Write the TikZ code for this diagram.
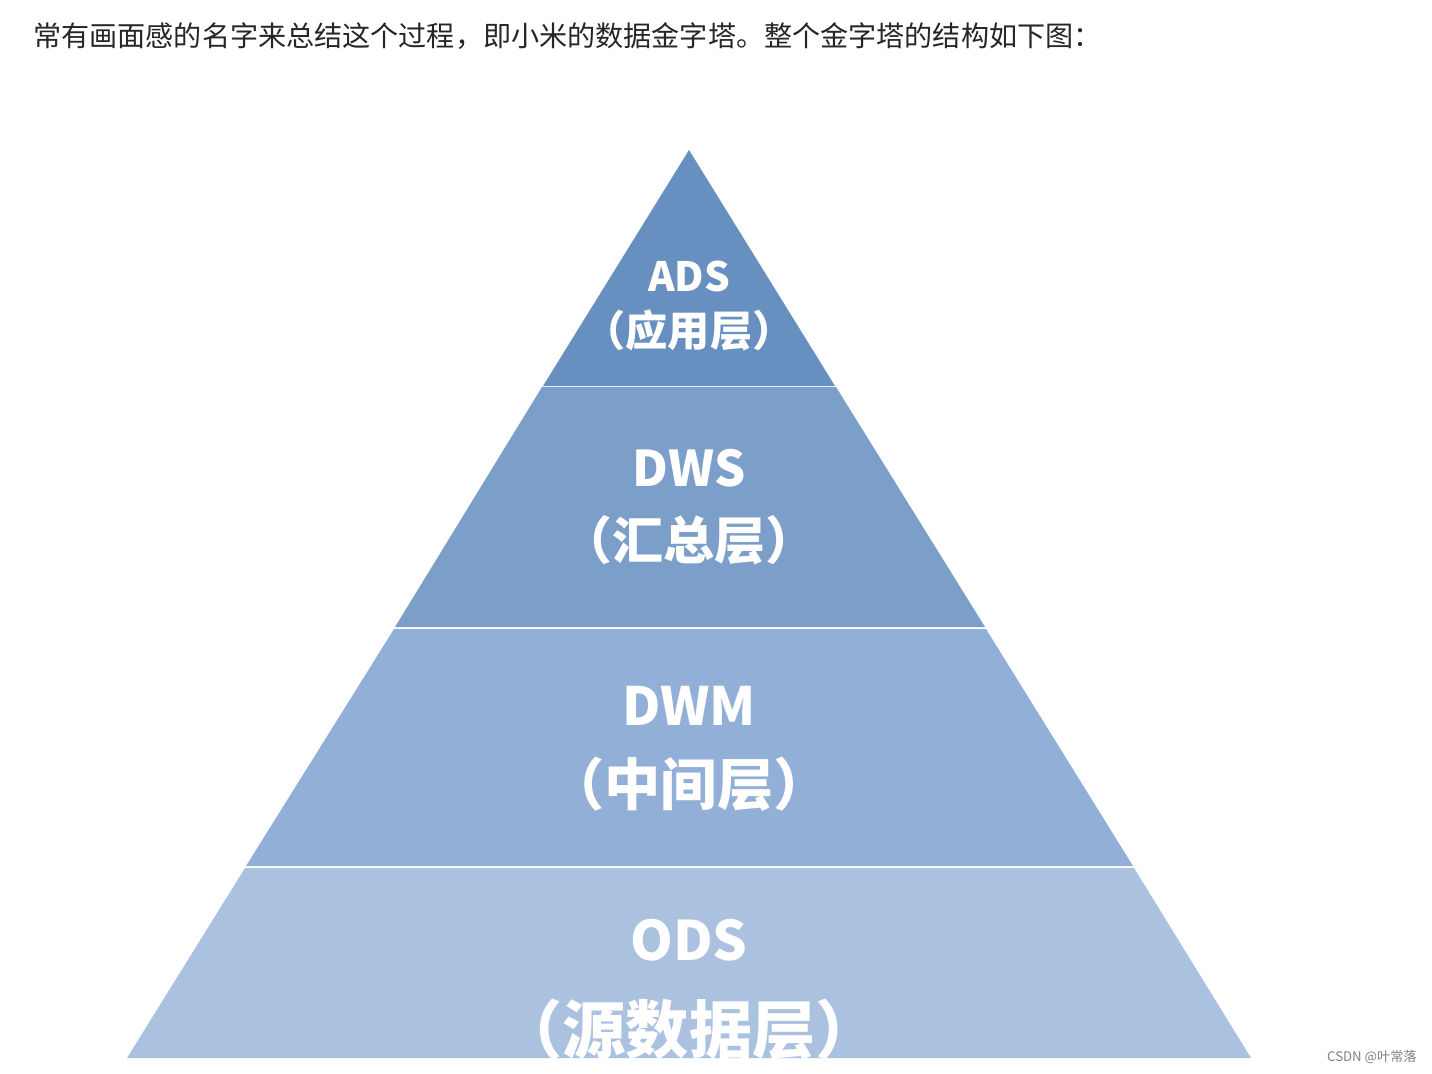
\documentclass[tikz,border=0pt]{standalone}
\usepackage{fontspec}
\setmainfont{Noto Sans CJK SC}
\newfontfamily\cjkb[BoldFont=*]{Noto Sans CJK SC Bold}
\definecolor{cA}{HTML}{678FBF}
\definecolor{cB}{HTML}{7C9FC9}
\definecolor{cC}{HTML}{92B0D7}
\definecolor{cD}{HTML}{ABC1E0}
\begin{document}
\begin{tikzpicture}[x=0.02cm,y=-0.02cm,
  lay/.style={draw=white,line width=2pt},
  lbl/.style={text=white,font=\bfseries,align=center,inner sep=0pt}]
\useasboundingbox (0,0) rectangle (1432,1074);
\fill[white] (0,0) rectangle (1432,1074);
\node[anchor=west,inner sep=0pt,font=\fontsize{16}{18}\selectfont,text=black!85] (cap) at (33,36) {常有画面感的名字来总结这个过程，即小米的数据金字塔。整个金字塔的结构如下图：};
\fill[cA] (689,150) -- (835,386) -- (543,386) -- cycle;
\fill[cB] (542,387) -- (836,387) -- (985,627) -- (395,627) -- cycle;
\fill[cC] (394,629) -- (986,629) -- (1133,866) -- (246,866) -- cycle;
\fill[cD] (245,868) -- (1134,868) -- (1251,1058) -- (127,1058) -- cycle;
\node[lbl,font=\bfseries\fontsize{23}{27}\selectfont] (ads) at (689,276) {ADS};
\node[lbl,font=\bfseries\fontsize{24}{27}\selectfont] (adsz) at (689,330) {（应用层）};
\node[lbl,font=\bfseries\fontsize{28}{30}\selectfont] (dws) at (689,468) {DWS};
\node[lbl,font=\bfseries\fontsize{29}{30}\selectfont] (dwsz) at (689,540) {（汇总层）};
\node[lbl,font=\bfseries\fontsize{30}{30}\selectfont] (dwm) at (689,706) {DWM};
\node[lbl,font=\bfseries\fontsize{32}{30}\selectfont] (dwmz) at (689,784) {（中间层）};
\node[lbl,font=\bfseries\fontsize{31}{30}\selectfont] (ods) at (689,940) {ODS};
\begin{scope}
\clip (0,0) rectangle (1432,1058);
\node[lbl,font=\bfseries\fontsize{36}{30}\selectfont] (odsz) at (689,1030) {（源数据层）};
\end{scope}
\node[anchor=east,inner sep=0pt,text=black!50,font=\fontsize{7.5}{9}\selectfont] (wm) at (1417,1057) {CSDN @叶常落};
\end{tikzpicture}
\end{document}
